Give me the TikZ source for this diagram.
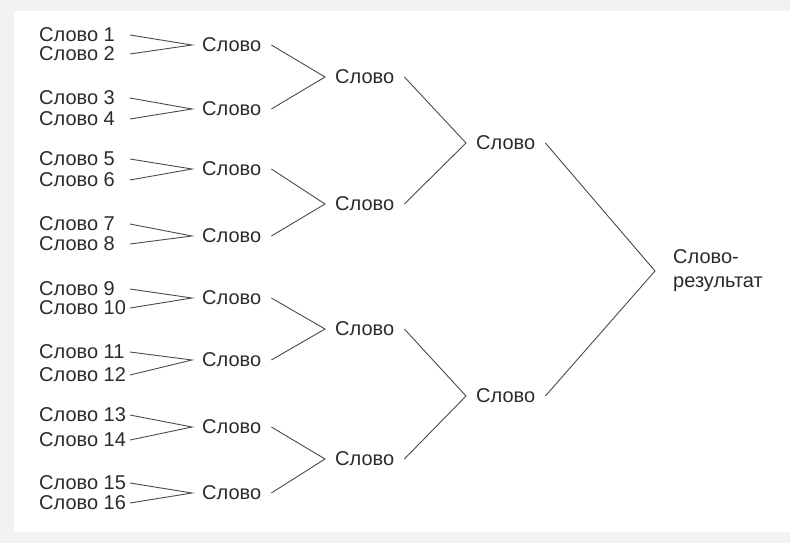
\documentclass[tikz,border=0pt]{standalone}
\usepackage{fontspec}
\setmainfont{Liberation Sans}
\usepackage{tikz}
\usetikzlibrary{positioning}

\definecolor{txtgray}{HTML}{2B2B2B}
\definecolor{linegray}{HTML}{4A4A4A}
\definecolor{pagegray}{HTML}{F2F2F2}

\tikzset{
  leaf/.style={anchor=west,inner sep=0pt,text=txtgray},
  word/.style={anchor=west,inner xsep=10pt,inner ysep=0pt,text=txtgray},
  link/.style={draw=linegray,line width=0.9pt}
}

\begin{document}
\begin{tikzpicture}[x=1pt,y=-1pt,font=\fontsize{20}{24}\selectfont]
\useasboundingbox (0,0) rectangle (790,543);

% background
\fill[pagegray] (0,0) rectangle (790,543);
\fill[white,rounded corners=3pt] (14,11) rectangle (796,532);

\coordinate (a) at (130,0);

% words 1..16
\node[leaf] (w1) at (39,35) {Слово 1};
\node[leaf] (w2) at (39,54) {Слово 2};
\node[leaf] (w3) at (39,98) {Слово 3};
\node[leaf] (w4) at (39,119) {Слово 4};
\node[leaf] (w5) at (39,159) {Слово 5};
\node[leaf] (w6) at (39,180) {Слово 6};
\node[leaf] (w7) at (39,224) {Слово 7};
\node[leaf] (w8) at (39,244) {Слово 8};
\node[leaf] (w9) at (39,289) {Слово 9};
\node[leaf] (w10) at (39,308) {Слово 10};
\node[leaf] (w11) at (39,352) {Слово 11};
\node[leaf] (w12) at (39,375) {Слово 12};
\node[leaf] (w13) at (39,415) {Слово 13};
\node[leaf] (w14) at (39,440) {Слово 14};
\node[leaf] (w15) at (39,483) {Слово 15};
\node[leaf] (w16) at (39,503) {Слово 16};

% first level
\node[word] (p1) at (192,45) {Слово};
\node[word] (p2) at (192,109) {Слово};
\node[word] (p3) at (192,169) {Слово};
\node[word] (p4) at (192,236) {Слово};
\node[word] (p5) at (192,298) {Слово};
\node[word] (p6) at (192,360) {Слово};
\node[word] (p7) at (192,427) {Слово};
\node[word] (p8) at (192,493) {Слово};

% second level
\node[word] (q1) at (325,77) {Слово};
\node[word] (q2) at (325,204) {Слово};
\node[word] (q3) at (325,329) {Слово};
\node[word] (q4) at (325,459) {Слово};

% third level
\node[word] (r1) at (466,143) {Слово};
\node[word] (r2) at (466,396) {Слово};

\node[word,inner xsep=18pt,align=left] (res) at (655,271) {Слово-\\результат};

\draw[link] (w1 -| a) -- (p1.west) -- (w2 -| a);
\draw[link] (w3 -| a) -- (p2.west) -- (w4 -| a);
\draw[link] (w5 -| a) -- (p3.west) -- (w6 -| a);
\draw[link] (w7 -| a) -- (p4.west) -- (w8 -| a);
\draw[link] (w9 -| a) -- (p5.west) -- (w10 -| a);
\draw[link] (w11 -| a) -- (p6.west) -- (w12 -| a);
\draw[link] (w13 -| a) -- (p7.west) -- (w14 -| a);
\draw[link] (w15 -| a) -- (p8.west) -- (w16 -| a);

\draw[link] (p1.east) -- (q1.west) -- (p2.east);
\draw[link] (p3.east) -- (q2.west) -- (p4.east);
\draw[link] (p5.east) -- (q3.west) -- (p6.east);
\draw[link] (p7.east) -- (q4.west) -- (p8.east);

\draw[link] (q1.east) -- (r1.west) -- (q2.east);
\draw[link] (q3.east) -- (r2.west) -- (q4.east);

\draw[link] (r1.east) -- (res.west) -- (r2.east);
\end{tikzpicture}
\end{document}
